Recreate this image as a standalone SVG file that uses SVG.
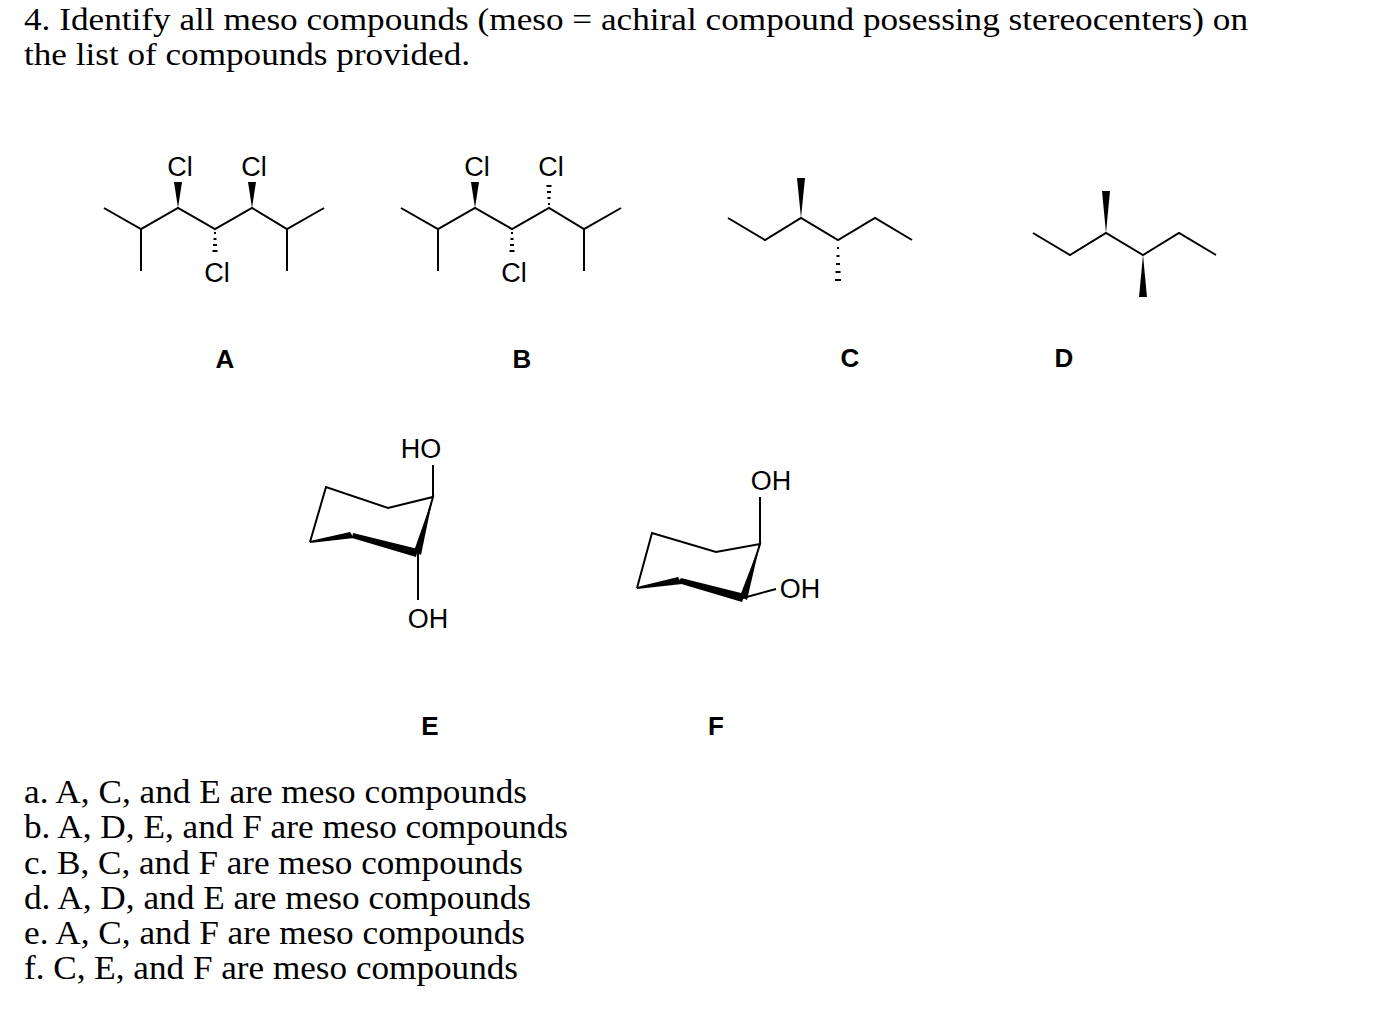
<svg xmlns="http://www.w3.org/2000/svg" width="1400" height="1015" viewBox="0 0 1400 1015">
<style>
.t{font-family:"Liberation Serif",serif;font-size:32px;fill:#000}
.a{font-family:"Liberation Serif",serif;font-size:33px;fill:#000}
.l{font-family:"Liberation Sans",sans-serif;font-size:27px;fill:#000;text-anchor:middle}
.b{font-family:"Liberation Sans",sans-serif;font-size:26px;font-weight:bold;fill:#000;text-anchor:middle}
.k{fill:none;stroke:#000;stroke-width:2;stroke-linejoin:miter}
.w{fill:#000}
.d{stroke:#000;stroke-width:2}
</style>
<rect width="1400" height="1015" fill="#fff"/>
<text class="t" x="24" y="30" textLength="1224" lengthAdjust="spacingAndGlyphs">4. Identify all meso compounds (meso = achiral compound posessing stereocenters) on</text>
<text class="t" x="24" y="65" textLength="446" lengthAdjust="spacingAndGlyphs">the list of compounds provided.</text>
<g id="A">
<polyline class="k" points="104,208 141,229 178,208 215,229 252,208 287,229 324,208"/>
<line class="k" x1="141" y1="229" x2="141" y2="271"/><line class="k" x1="287" y1="229" x2="287" y2="271"/>
<polygon class="w" points="178,208 174,182 182,182"/><polygon class="w" points="252,208 248,182 256,182"/>
<path class="d" d="M214,233h2M213.5,239h3M213,245h4M212.5,251h5"/>
<text class="l" x="180" y="176">Cl</text><text class="l" x="254" y="176">Cl</text><text class="l" x="217" y="282">Cl</text>
<text class="b" x="225" y="368">A</text>
</g>
<g id="B">
<polyline class="k" points="401,208 438,229 475,208 512,229 549,208 584,229 621,208"/>
<line class="k" x1="438" y1="229" x2="438" y2="271"/><line class="k" x1="584" y1="229" x2="584" y2="271"/>
<polygon class="w" points="475,208 471,182 479,182"/>
<path class="d" d="M511,233h2M510.5,239h3M510,245h4M509.5,251h5"/>
<path class="d" d="M548,204h2M547.5,198h3M547,192h4M546.5,186h5"/>
<text class="l" x="477" y="176">Cl</text><text class="l" x="551" y="176">Cl</text><text class="l" x="514" y="282">Cl</text>
<text class="b" x="522" y="368">B</text>
</g>
<g id="C">
<polyline class="k" points="728,218 765,240 801,218 838,240 875,218 912,240"/>
<polygon class="w" points="801,218 797,178 805,178"/>
<path class="d" d="M837,248h2M836.5,256h3M836,264h4M835.5,272h5M835,280h6"/>
<text class="b" x="850" y="367">C</text>
</g>
<g id="D">
<polyline class="k" points="1033,233 1070,255 1106,233 1143,255 1179,233 1216,255"/>
<polygon class="w" points="1106,233 1102,191 1110,191"/>
<polygon class="w" points="1143,255 1139,297 1147,297"/>
<text class="b" x="1064" y="367">D</text>
</g>
<g id="E">
<polyline class="k" points="417,553 433,497 388,508 326,487 310,542"/>
<polygon class="w" points="433,497 421,555 414,551"/>
<polygon class="w" points="418,549 416,557 352,538 353,533"/>
<polygon class="w" points="310,541 310,543 354,538 350,532"/>
<line class="k" x1="433" y1="497" x2="433" y2="465"/>
<line class="k" x1="418" y1="553" x2="418" y2="600"/>
<text class="l" x="421" y="458">HO</text><text class="l" x="428" y="628">OH</text>
<text class="b" x="430" y="735">E</text>
</g>
<g id="F">
<polyline class="k" points="743,598 760,544 716,552 652,533 637,588"/>
<polygon class="w" points="760,544 747,600 740,596"/>
<polygon class="w" points="745,594 742,602 678,583 681,578"/>
<polygon class="w" points="637,587 637,589 682,584 678,577"/>
<line class="k" x1="760" y1="544" x2="760" y2="497"/>
<line class="k" x1="743" y1="598" x2="776" y2="589"/>
<text class="l" x="771" y="490">OH</text><text class="l" x="800" y="598">OH</text>
<text class="b" x="716" y="735">F</text>
</g>
<text class="a" x="24" y="803" textLength="503" lengthAdjust="spacingAndGlyphs">a. A, C, and E are meso compounds</text>
<text class="a" x="24" y="838" textLength="544" lengthAdjust="spacingAndGlyphs">b. A, D, E, and F are meso compounds</text>
<text class="a" x="24" y="874" textLength="499" lengthAdjust="spacingAndGlyphs">c. B, C, and F are meso compounds</text>
<text class="a" x="24" y="909" textLength="507" lengthAdjust="spacingAndGlyphs">d. A, D, and E are meso compounds</text>
<text class="a" x="24" y="944" textLength="501" lengthAdjust="spacingAndGlyphs">e. A, C, and F are meso compounds</text>
<text class="a" x="24" y="979" textLength="494" lengthAdjust="spacingAndGlyphs">f. C, E, and F are meso compounds</text>
</svg>
